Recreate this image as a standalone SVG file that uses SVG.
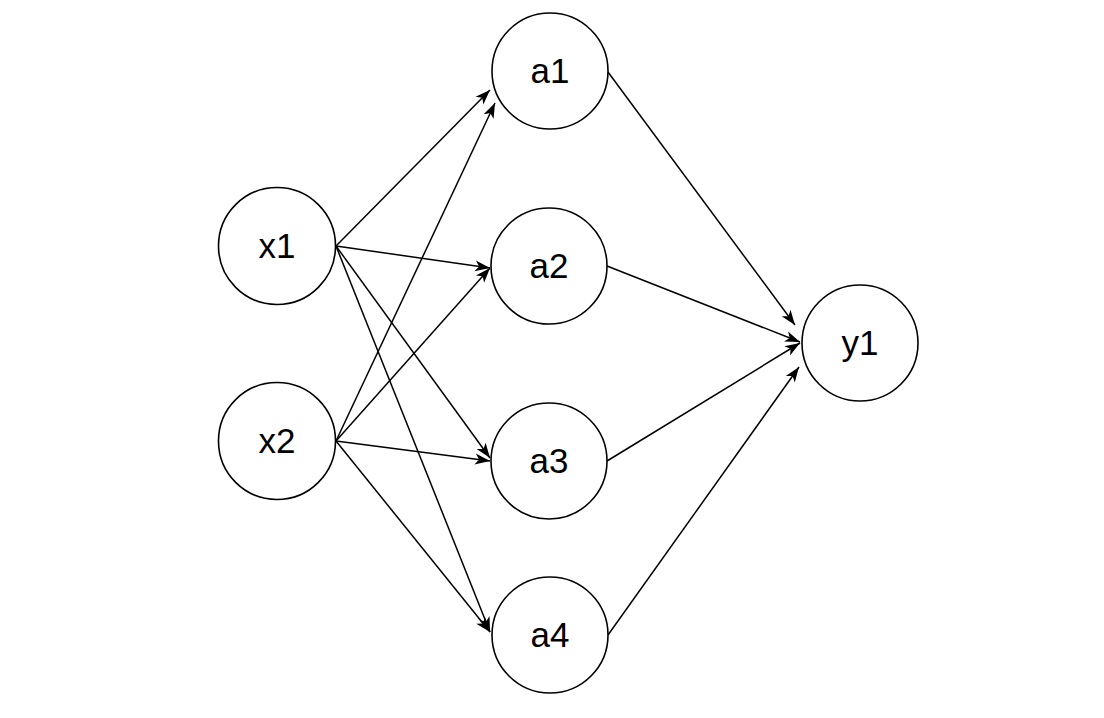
<svg xmlns="http://www.w3.org/2000/svg" width="1104" height="718" viewBox="0 0 1104 718">
<style>
.node circle{fill:#fff;stroke:#000;stroke-width:1.6}
.node text{font-family:"Liberation Sans",Arial,Helvetica,sans-serif;font-size:35px;fill:#000;text-anchor:middle}
.edge{stroke:#000;stroke-width:1.5;fill:none;marker-end:url(#arr)}
</style>
<defs>
<marker id="arr" markerUnits="userSpaceOnUse" markerWidth="15" markerHeight="11" refX="15" refY="5.5" orient="auto" overflow="visible">
<path d="M0,0 L15,5.5 L0,11 L4,5.5 z" fill="#000"/>
</marker>
</defs>
<rect width="1104" height="718" fill="#fff"/>
<g id="connectors">
<line class="edge" x1="336" y1="246" x2="490" y2="90"/>
<line class="edge" x1="336" y1="441" x2="495" y2="103"/>
<line class="edge" x1="336" y1="246" x2="490" y2="268"/>
<line class="edge" x1="336" y1="441" x2="490" y2="268"/>
<line class="edge" x1="336" y1="246" x2="490" y2="458"/>
<line class="edge" x1="336" y1="441" x2="490" y2="461"/>
<line class="edge" x1="336" y1="246" x2="490" y2="632"/>
<line class="edge" x1="336" y1="441" x2="490" y2="632"/>
<line class="edge" x1="608" y1="72" x2="795" y2="325"/>
<line class="edge" x1="607" y1="266" x2="800" y2="342"/>
<line class="edge" x1="607" y1="461" x2="800" y2="343"/>
<line class="edge" x1="608" y1="635" x2="799" y2="367"/>
</g>
<g id="x1" class="node"><circle cx="277" cy="246" r="58.5"/><text x="277" y="258">x1</text></g>
<g id="x2" class="node"><circle cx="277" cy="441" r="58.5"/><text x="277" y="453">x2</text></g>
<g id="a1" class="node"><circle cx="550" cy="71" r="58"/><text x="550" y="83">a1</text></g>
<g id="a2" class="node"><circle cx="549" cy="266" r="58"/><text x="549" y="278">a2</text></g>
<g id="a3" class="node"><circle cx="549" cy="461" r="58"/><text x="549" y="473">a3</text></g>
<g id="a4" class="node"><circle cx="550" cy="635" r="58"/><text x="550" y="647">a4</text></g>
<g id="y1" class="node"><circle cx="860" cy="343" r="58"/><text x="860" y="355">y1</text></g>
</svg>
